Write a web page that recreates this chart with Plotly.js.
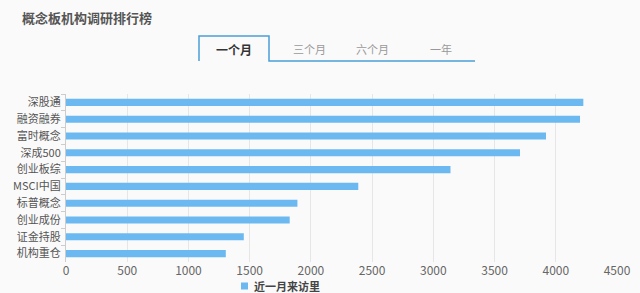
<!DOCTYPE html>
<html>
<head>
<meta charset="utf-8">
<script src="https://cdn.plot.ly/plotly-3.0.1.min.js"></script>
<style>html,body{margin:0;padding:0;background:#fafafa;}#chart{width:640px;height:293px;}</style>
</head>
<body>
<div id="chart"></div>
<script>
const categories = ["深股通","融资融券","富时概念","深成500","创业板综","MSCI中国","标普概念","创业成份","证金持股","机构重仓"];
const visits = [4225, 4198, 3920, 3708, 3140, 2387, 1890, 1827, 1452, 1305];
const seriesName = "近一月来访里";
const tabs = ["一个月","三个月","六个月","一年"];
const xTicks = [0,500,1000,1500,2000,2500,3000,3500,4000,4500];

const L = 66, R = 617, T = 94, B = 262;
const W = R - L, H = B - T;
const px = v => (v - L) / W;
const py = v => (B - v) / H;
const font = "'Noto Sans CJK SC', 'Noto Sans', sans-serif";
const barColor = "#6cb8f0";

const tabX = [234, 309, 372, 441];
const annotations = [
  {text: "概念板机构调研排行榜", x: px(20), y: py(17), xref: "paper", yref: "paper", xanchor: "left", yanchor: "middle", showarrow: false, font: {family: font, size: 13, color: "#555", weight: 700}},
  {text: seriesName, x: px(252), y: py(286), xref: "paper", yref: "paper", xanchor: "left", yanchor: "middle", showarrow: false, font: {family: font, size: 11, color: "#444", weight: 700}}
];
tabs.forEach((t, i) => annotations.push({
  text: t, x: px(tabX[i]), y: py(49), xref: "paper", yref: "paper", xanchor: "center", yanchor: "middle", showarrow: false,
  font: {family: font, size: i === 0 ? 12 : 11, color: i === 0 ? "#333" : "#999", weight: i === 0 ? 700 : 400}
}));

const shapes = [
  {type: "path", xref: "paper", yref: "paper",
   path: `M ${px(199)} ${py(61)} L ${px(199)} ${py(36)} L ${px(269)} ${py(36)} L ${px(269)} ${py(61)} L ${px(475)} ${py(61)}`,
   line: {color: "#4a9fd8", width: 1.5}},
  {type: "rect", xref: "paper", yref: "paper", x0: px(241), x1: px(248), y0: py(289.5), y1: py(282.5),
   fillcolor: barColor, line: {width: 0}}
];

const trace = {
  type: "bar", orientation: "h", y: categories, x: visits, name: seriesName,
  marker: {color: barColor}, hoverinfo: "x+y"
};

const layout = {
  width: 640, height: 293,
  margin: {l: L, r: 640 - R, t: T, b: 293 - B, pad: 0},
  paper_bgcolor: "#fafafa", plot_bgcolor: "#fafafa",
  font: {family: font, size: 11, color: "#555"},
  bargap: 0.58,
  showlegend: false,
  xaxis: {range: [0, 4500], tickvals: xTicks, ticktext: xTicks.map(String),
          showgrid: true, gridcolor: "#e6e6e6", gridwidth: 1, zeroline: false,
          showline: false, ticks: "", tickfont: {size: 12, color: "#666"}, fixedrange: true, automargin: false},
  yaxis: {autorange: "reversed", type: "category", showgrid: false, zeroline: false,
          showline: true, linecolor: "#ccc", linewidth: 1, ticks: "outside", ticklen: 4, tickcolor: "#ccc",
          tickson: "boundaries", tickfont: {size: 11, color: "#555"}, ticklabelstandoff: 2, fixedrange: true, automargin: false},
  annotations: annotations,
  shapes: shapes
};

Plotly.newPlot("chart", [trace], layout, {displayModeBar: false, staticPlot: true});
</script>
</body>
</html>
